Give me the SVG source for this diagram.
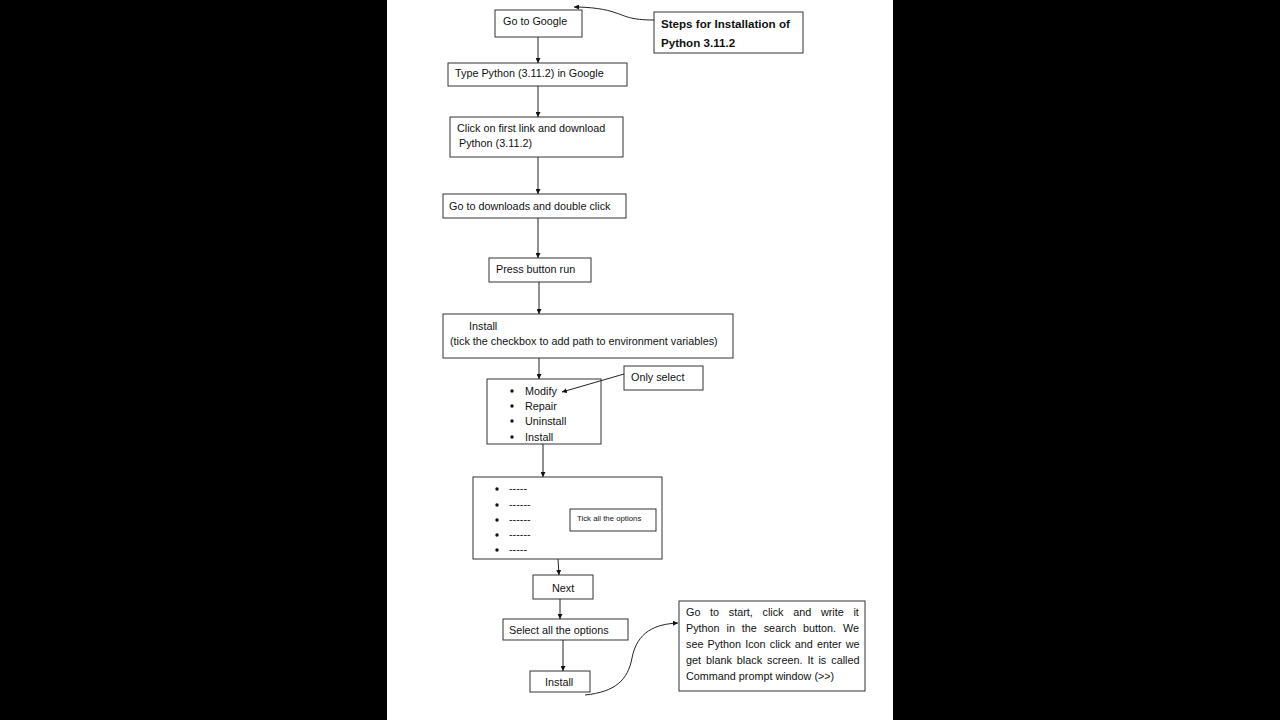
<svg xmlns="http://www.w3.org/2000/svg" width="1280" height="720" viewBox="0 0 1280 720">
<style>
.box{fill:#fff;stroke:#333;stroke-width:1}
.t{font-family:"Liberation Sans",Arial,sans-serif;font-size:10.8px;fill:#111}
.b{font-family:"Liberation Sans",Arial,sans-serif;font-size:11.6px;font-weight:bold;fill:#111}
.s{font-family:"Liberation Sans",Arial,sans-serif;font-size:7.8px;fill:#111}
.c{fill:none;stroke:#222;stroke-width:1}
</style>
<defs>
<marker id="ah" viewBox="0 0 10 10" refX="10" refY="5" markerWidth="5" markerHeight="5" orient="auto" markerUnits="userSpaceOnUse">
<path d="M0,0 L10,5 L0,10 z" fill="#111"/>
</marker>
</defs>
<rect x="0" y="0" width="1280" height="720" fill="#000"/>
<rect x="387" y="0" width="506" height="720" fill="#fff"/>

<g id="n-google">
<rect class="box" x="495" y="10" width="87" height="27"/>
<text class="t" x="503" y="25">Go to Google</text>
</g>

<g id="n-title">
<rect class="box" x="654" y="12" width="149" height="41"/>
<text class="b" x="661" y="28">Steps for Installation of</text>
<text class="b" x="661" y="47">Python 3.11.2</text>
</g>

<g id="n-type">
<rect class="box" x="448" y="63" width="179" height="23"/>
<text class="t" x="455" y="77">Type Python (3.11.2) in Google</text>
</g>

<g id="n-click">
<rect class="box" x="450" y="117" width="173" height="40"/>
<text class="t" x="457" y="132">Click on first link and download</text>
<text class="t" x="459" y="147">Python (3.11.2)</text>
</g>

<g id="n-downloads">
<rect class="box" x="443" y="194" width="183" height="24"/>
<text class="t" x="449" y="210">Go to downloads and double click</text>
</g>

<g id="n-run">
<rect class="box" x="489" y="258" width="102" height="24"/>
<text class="t" x="496" y="273">Press button run</text>
</g>

<g id="n-install1">
<rect class="box" x="443" y="314" width="290" height="44"/>
<text class="t" x="469" y="330">Install</text>
<text class="t" x="450" y="345">(tick the checkbox to add path to environment variables)</text>
</g>

<g id="n-only">
<rect class="box" x="624" y="366" width="79" height="24"/>
<text class="t" x="631" y="381">Only select</text>
</g>

<g id="n-modify">
<rect class="box" x="487" y="379" width="114" height="65"/>
<circle cx="512" cy="391" r="1.7" fill="#111"/>
<circle cx="512" cy="406" r="1.7" fill="#111"/>
<circle cx="512" cy="421" r="1.7" fill="#111"/>
<circle cx="512" cy="437" r="1.7" fill="#111"/>
<text class="t" x="525" y="395">Modify</text>
<text class="t" x="525" y="410">Repair</text>
<text class="t" x="525" y="425">Uninstall</text>
<text class="t" x="525" y="441">Install</text>
</g>

<g id="n-options">
<rect class="box" x="473" y="477" width="189" height="82"/>
<circle cx="497" cy="489" r="1.7" fill="#111"/>
<circle cx="497" cy="505" r="1.7" fill="#111"/>
<circle cx="497" cy="520" r="1.7" fill="#111"/>
<circle cx="497" cy="535" r="1.7" fill="#111"/>
<circle cx="497" cy="550" r="1.7" fill="#111"/>
<text class="t" x="509" y="492">-----</text>
<text class="t" x="509" y="508">------</text>
<text class="t" x="509" y="523">------</text>
<text class="t" x="509" y="538">------</text>
<text class="t" x="509" y="553">-----</text>
</g>

<g id="n-tick">
<rect class="box" x="570" y="509" width="86" height="22"/>
<text class="s" x="577" y="521">Tick all the options</text>
</g>

<g id="n-next">
<rect class="box" x="533" y="575" width="60" height="24"/>
<text class="t" x="552" y="592">Next</text>
</g>

<g id="n-select">
<rect class="box" x="503" y="619" width="125" height="21"/>
<text class="t" x="509" y="634">Select all the options</text>
</g>

<g id="n-install2">
<rect class="box" x="530" y="671" width="60" height="21"/>
<text class="t" x="545" y="686">Install</text>
</g>

<g id="n-start">
<rect class="box" x="679" y="601" width="186" height="90"/>
<text class="t" x="686" y="616" word-spacing="6.7">Go to start, click and write it</text>
<text class="t" x="686" y="632" word-spacing="3.9">Python in the search button. We</text>
<text class="t" x="686" y="648" word-spacing="1.1">see Python Icon click and enter we</text>
<text class="t" x="686" y="664" word-spacing="2">get blank black screen. It is called</text>
<text class="t" x="686" y="680">Command prompt window (&gt;&gt;)</text>
</g>

<g id="connectors">
<path class="c" d="M654,20 C630,20 626,16 616,13 C606,9 590,7 574,7" marker-end="url(#ah)"/>
<line class="c" x1="538" y1="37" x2="538" y2="63" marker-end="url(#ah)"/>
<line class="c" x1="538" y1="86" x2="538" y2="117" marker-end="url(#ah)"/>
<line class="c" x1="538" y1="157" x2="538" y2="194" marker-end="url(#ah)"/>
<line class="c" x1="538" y1="218" x2="538" y2="258" marker-end="url(#ah)"/>
<line class="c" x1="539" y1="282" x2="539" y2="314" marker-end="url(#ah)"/>
<line class="c" x1="539" y1="358" x2="539" y2="379" marker-end="url(#ah)"/>
<line class="c" x1="624" y1="374" x2="562" y2="392" marker-end="url(#ah)"/>
<line class="c" x1="543" y1="444" x2="543" y2="477" marker-end="url(#ah)"/>
<line class="c" x1="558" y1="559" x2="559" y2="575" marker-end="url(#ah)"/>
<line class="c" x1="560" y1="599" x2="560" y2="619" marker-end="url(#ah)"/>
<line class="c" x1="563" y1="640" x2="563" y2="671" marker-end="url(#ah)"/>
<path class="c" d="M585,695 C615,692 628,680 632,658 C637,632 655,624 678,623" marker-end="url(#ah)"/>
</g>
</svg>
